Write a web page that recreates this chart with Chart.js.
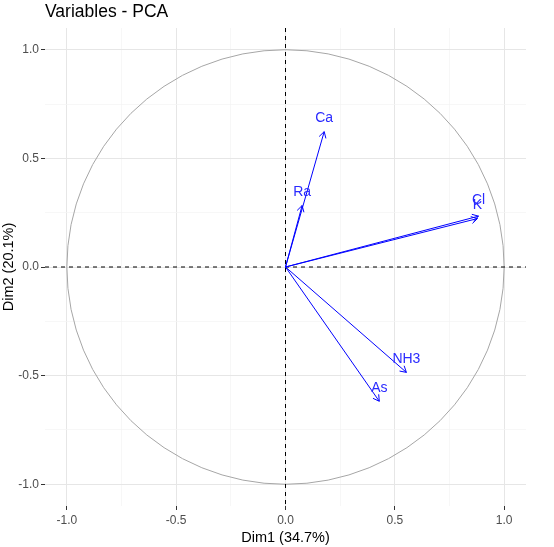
<!DOCTYPE html>
<html>
<head>
<meta charset="utf-8">
<script src="https://cdn.jsdelivr.net/npm/chart.js@4.4.1/dist/chart.umd.min.js"></script>
<style>
  html,body{margin:0;padding:0;background:#fff;}
  #wrap{width:554px;height:547px;position:relative;}
</style>
</head>
<body>
<div id="wrap"><canvas id="pca"></canvas></div>
<script>
'use strict';
// variable coordinates (Dim1, Dim2)
const varNames=['Ca','Ra','Cl','K','NH3','As'];
const dim1=[0.177,0.076,0.883,0.878,0.553,0.429];
const dim2=[0.623,0.283,0.234,0.223,-0.485,-0.618];
const labelShift=[0,0,-3,0,0,0]; // px, keeps Cl above K like the original
const tickVals=[-1,-0.75,-0.5,-0.25,0,0.25,0.5,0.75,1];
const majorTicks=[-1,-0.5,0,0.5,1];

const FONT='"Liberation Sans", Arial, sans-serif';
const BLUE='#0000ff';
const isMajor=v=>majorTicks.some(m=>Math.abs(m-v)<1e-9);

const arrowSets=varNames.map((name,i)=>({
  label:name,
  data:[{x:0,y:0},{x:dim1[i],y:dim2[i]}],
  showLine:true,
  borderColor:BLUE,
  borderWidth:1,
  pointRadius:0,
  pointHoverRadius:0
}));

const pcaDecor={
  id:'pcaDecor',
  beforeDatasetsDraw(chart){
    const {ctx,chartArea:a,scales:{x,y}}=chart;
    const cx=x.getPixelForValue(0), cy=y.getPixelForValue(0);
    const rx=x.getPixelForValue(1)-cx, ry=cy-y.getPixelForValue(1);
    ctx.save();
    // unit circle
    ctx.strokeStyle='#a6a6a6';
    ctx.lineWidth=1;
    ctx.beginPath();
    ctx.ellipse(cx,cy,rx,ry,0,0,Math.PI*2);
    ctx.stroke();
    // zero lines
    ctx.strokeStyle='#000';
    ctx.setLineDash([4,4]);
    ctx.beginPath();
    ctx.moveTo(a.left,cy);ctx.lineTo(a.right,cy);
    ctx.moveTo(cx,a.top);ctx.lineTo(cx,a.bottom);
    ctx.stroke();
    ctx.restore();
  },
  afterDatasetsDraw(chart){
    const {ctx,scales:{x,y}}=chart;
    const x0=x.getPixelForValue(0), y0=y.getPixelForValue(0);
    ctx.save();
    ctx.strokeStyle=BLUE;
    ctx.lineWidth=1;
    varNames.forEach((name,i)=>{
      const px=x.getPixelForValue(dim1[i]), py=y.getPixelForValue(dim2[i]);
      const ang=Math.atan2(py-y0,px-x0);
      const len=7, spread=Math.PI/6;
      ctx.beginPath();
      ctx.moveTo(px-len*Math.cos(ang-spread),py-len*Math.sin(ang-spread));
      ctx.lineTo(px,py);
      ctx.lineTo(px-len*Math.cos(ang+spread),py-len*Math.sin(ang+spread));
      ctx.stroke();
    });
    ctx.fillStyle='#2a2aff';
    ctx.font='14px '+FONT;
    ctx.textAlign='center';
    ctx.textBaseline='middle';
    varNames.forEach((name,i)=>{
      const px=x.getPixelForValue(dim1[i]), py=y.getPixelForValue(dim2[i]);
      ctx.fillText(name,px,py-13+labelShift[i]);
    });
    ctx.restore();
  }
};

function axisTicks(scale){scale.ticks=tickVals.map(v=>({value:v}));}
const gridOpts={
  color:c=>isMajor(c.tick?c.tick.value:0)?'#e6e6e6':'#f3f3f3',
  lineWidth:c=>isMajor(c.tick?c.tick.value:0)?1:0.7,
  tickColor:c=>isMajor(c.tick?c.tick.value:0)?'#333':'rgba(0,0,0,0)',
  tickLength:4,
  drawTicks:true
};
const tickFont={family:FONT,size:12};
const labelCb=v=>isMajor(v)?Number(v).toFixed(1):'';

new Chart(document.getElementById('pca'),{
  type:'scatter',
  data:{datasets:arrowSets},
  options:{
    responsive:true,
    maintainAspectRatio:false,
    animation:false,
    events:[],
    layout:{padding:{left:0,right:28,top:0,bottom:0}},
    plugins:{
      legend:{display:false},
      tooltip:{enabled:false},
      title:{display:true,text:'Variables - PCA',align:'start',fullSize:false,color:'#000',
        font:{family:FONT,size:17.5,weight:'normal'},padding:{top:2,bottom:5}}
    },
    scales:{
      x:{type:'linear',min:-1.1,max:1.1,
        afterBuildTicks:axisTicks,
        afterFit:s=>{s.height=41;},
        border:{display:false},
        grid:gridOpts,
        ticks:{callback:labelCb,color:'#4d4d4d',font:tickFont,padding:3,autoSkip:false,maxRotation:0},
        title:{display:true,text:'Dim1 (34.7%)',color:'#000',font:{family:FONT,size:14.5},padding:{top:0,bottom:0}}
      },
      y:{type:'linear',min:-1.1,max:1.1,
        afterBuildTicks:axisTicks,
        afterFit:s=>{s.width=45;},
        border:{display:false},
        grid:gridOpts,
        ticks:{callback:labelCb,color:'#4d4d4d',font:tickFont,padding:2,autoSkip:false},
        title:{display:true,text:'Dim2 (20.1%)',color:'#000',font:{family:FONT,size:14.5},padding:{top:0,bottom:0}}
      }
    }
  },
  plugins:[pcaDecor]
});
</script>
</body>
</html>
